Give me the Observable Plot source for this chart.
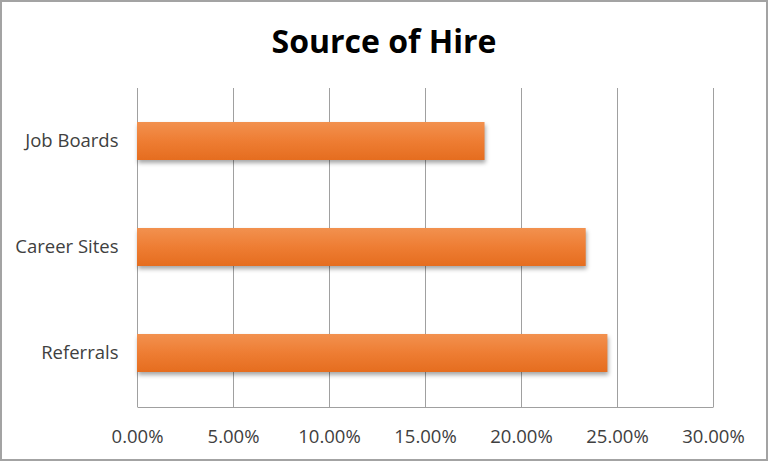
<!DOCTYPE html>
<html><head><meta charset="utf-8">
<script src="https://cdn.jsdelivr.net/npm/d3@7"></script>
<script src="https://cdn.jsdelivr.net/npm/@observablehq/plot@0.6"></script>
<style>
html,body{margin:0;padding:0;background:#fff;}
#wrap{position:relative;width:768px;height:461px;overflow:hidden;font-family:"Open Sans",sans-serif;background:#fff;}
#title{position:absolute;left:0;top:25px;width:768px;text-align:center;font-size:32px;font-weight:700;line-height:32px;color:#000;}
#chart{position:absolute;left:0;top:80px;}
#border{position:absolute;left:0;top:0;width:768px;height:461px;box-sizing:border-box;border:2px solid #a3a3a3;pointer-events:none;}
</style></head>
<body><div id="wrap"><div id="title">Source of Hire</div><div id="chart"></div><div id="border"></div></div>
<script>
const categories = ["Job Boards", "Career Sites", "Referrals"];
const values = [0.181, 0.2337, 0.245];
const xTicks = [0, 0.05, 0.10, 0.15, 0.20, 0.25, 0.30];

const data = categories.map((c, i) => ({source: c, share: values[i]}));

const W = 768, H = 381, mT = 8, mB = 54, mL = 137, mR = 55;
const fw = W - mL - mR, fh = H - mT - mB;

const plot = Plot.plot({
  width: W, height: H,
  marginTop: mT, marginBottom: mB, marginLeft: mL, marginRight: mR,
  style: {fontFamily: '"Open Sans", sans-serif', fontSize: "18.5px", color: "#404040", background: "transparent", overflow: "visible"},
  x: {domain: [0, 0.30]},
  y: {domain: categories, paddingInner: 0.64, paddingOuter: 0.32},
  marks: [
    Plot.ruleX(xTicks, {stroke: "#a0a0a0", strokeOpacity: 1}),
    Plot.frame({stroke: "#a0a0a0", strokeOpacity: 1, strokeDasharray: `0 ${fw + fh} ${fw} ${fh}`}),
    Plot.barX(data, {x: "share", y: "source", fill: "#ED7D31"}),
    Plot.axisX({ticks: xTicks, tickFormat: d => (d * 100).toFixed(2) + "%", tickSize: 0, tickPadding: 22, label: null, fill: "#404040"}),
    Plot.axisY({tickSize: 0, tickPadding: 19, label: null, fill: "#404040"})
  ]
});

const svg = d3.select(plot);
const grad = svg.insert("defs", ":first-child").append("linearGradient")
  .attr("id", "barGrad").attr("x1", 0).attr("y1", 0).attr("x2", 0).attr("y2", 1);
grad.append("stop").attr("offset", "0%").attr("stop-color", "#F2914F");
grad.append("stop").attr("offset", "50%").attr("stop-color", "#EE7D33");
grad.append("stop").attr("offset", "100%").attr("stop-color", "#E56D1F");
svg.selectAll('g[aria-label="bar"]')
  .attr("fill", "url(#barGrad)")
  .style("filter", "drop-shadow(1px 3px 2px rgba(0,0,0,0.35))");

document.getElementById("chart").appendChild(plot);
</script>
</body></html>
